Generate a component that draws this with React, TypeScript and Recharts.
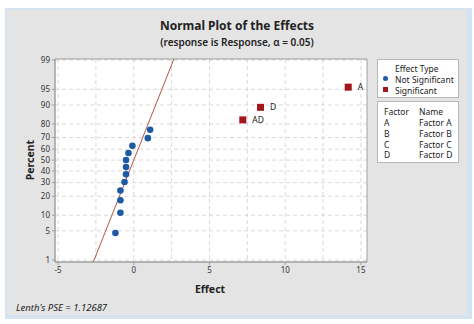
import {
  ScatterChart,
  Scatter,
  XAxis,
  YAxis,
  CartesianGrid,
  ReferenceLine,
  ReferenceArea,
  LabelList,
} from "recharts";

// effects that are not significant (blue dots)
const nsEffects = [-1.21, -0.88, -0.88, -0.88, -0.61, -0.51, -0.51, -0.51, -0.35, -0.09, 0.93, 1.08];
const nsPercents = [4.5, 11.0, 17.5, 24.0, 30.5, 37.0, 43.5, 50.0, 56.5, 63.0, 69.5, 76.0];

// significant effects (red squares)
const sigNames = ["AD", "D", "A"];
const sigEffects = [7.2, 8.37, 14.16];
const sigPercents = [82.5, 89.0, 95.5];

// reference line (through 0 with slope = Lenth's PSE), ends at plot edges
const lineEffects = [-2.67, 2.65];
const linePercents = [0.89, 99.06];

const pctTicks = [1, 5, 10, 20, 30, 40, 50, 60, 70, 80, 90, 95, 99];
const xTicks = [-5, 0, 5, 10, 15];
const xGrid = [-5, -2.5, 0, 2.5, 5, 7.5, 10, 12.5, 15];

const factors = ["A", "B", "C", "D"];
const factorNames = ["Factor A", "Factor B", "Factor C", "Factor D"];

const BLUE = "#1d5aa6";
const RED = "#a3161d";
const FONT = "'Noto Sans', 'Open Sans', sans-serif";

// inverse normal cdf (Acklam) -> probability scale
function probit(p: number): number {
  const a = [-39.69683028665376, 220.9460984245205, -275.9285104469687, 138.357751867269, -30.66479806614716, 2.506628277459239];
  const b = [-54.47609879822406, 161.5858368580409, -155.6989798598866, 66.80131188771972, -13.28068155288572];
  const c = [-0.007784894002430293, -0.3223964580411365, -2.400758276161838, -2.549732539343734, 4.374664141464968, 2.938163982698783];
  const d = [0.007784695709041462, 0.3224671290700398, 2.445134137142996, 3.754408661907416];
  const pl = 0.02425;
  if (p < pl) {
    const q = Math.sqrt(-2 * Math.log(p));
    return (((((c[0] * q + c[1]) * q + c[2]) * q + c[3]) * q + c[4]) * q + c[5]) /
      ((((d[0] * q + d[1]) * q + d[2]) * q + d[3]) * q + 1);
  }
  if (p > 1 - pl) {
    const q = Math.sqrt(-2 * Math.log(1 - p));
    return -(((((c[0] * q + c[1]) * q + c[2]) * q + c[3]) * q + c[4]) * q + c[5]) /
      ((((d[0] * q + d[1]) * q + d[2]) * q + d[3]) * q + 1);
  }
  const q = p - 0.5;
  const r = q * q;
  return ((((((a[0] * r + a[1]) * r + a[2]) * r + a[3]) * r + a[4]) * r + a[5]) * q) /
    (((((b[0] * r + b[1]) * r + b[2]) * r + b[3]) * r + b[4]) * r + 1);
}

const z = (pct: number) => probit(pct / 100);

const nsData = nsEffects.map((e, i) => ({ effect: e, z: z(nsPercents[i]) }));
const sigData = sigEffects.map((e, i) => ({ effect: e, z: z(sigPercents[i]), name: sigNames[i] }));
const yTicks = pctTicks.map(z);

// label for a probability-scale tick: nearest percent
function pctLabel(v: number): string {
  let best = 0;
  yTicks.forEach((t, i) => {
    if (Math.abs(t - v) < Math.abs(yTicks[best] - v)) best = i;
  });
  return String(pctTicks[best]);
}

const Square = (props: any) => {
  const { cx, cy } = props;
  return <rect x={cx - 3.5} y={cy - 3.5} width={7} height={7} fill={RED} />;
};

const Dot = (props: any) => {
  const { cx, cy } = props;
  return <circle cx={cx} cy={cy} r={3.3} fill={BLUE} />;
};

const legendText = { position: "absolute" as const, whiteSpace: "nowrap" as const };

export default function App() {
  return (
    <div style={{ position: "relative", width: 474, height: 324, fontFamily: FONT, color: "#222" }}>
      <style>{`body{margin:0}`}</style>
      {/* outer panel */}
      <div
        style={{
          position: "absolute",
          left: 5,
          top: 8,
          width: 460,
          height: 305,
          background: "#e4e4e4",
          border: "2px solid #d5e2ef",
          borderRightWidth: 5,
          borderBottomWidth: 4,
        }}
      />
      <div style={{ position: "absolute", left: 0, top: 0 }}>
        <ScatterChart width={474} height={324} margin={{ top: 59, right: 107, bottom: 42, left: 0 }}>
          <CartesianGrid
            fill="#ffffff"
            stroke="#d9d9d9"
            strokeDasharray="4 3"
            verticalValues={xGrid}
          />
          <XAxis
            type="number"
            dataKey="effect"
            domain={[-5.2, 15.4]}
            ticks={xTicks}
            interval={0}
            height={20}
            axisLine={{ stroke: "#a0a0a0" }}
            tickLine={{ stroke: "#a0a0a0" }}
            tickSize={3}
            tick={{ fontSize: 8, fill: "#333", fontFamily: FONT }}
            allowDataOverflow
          />
          <YAxis
            type="number"
            dataKey="z"
            domain={[-2.37, 2.35]}
            ticks={yTicks}
            interval={0}
            width={55}
            axisLine={{ stroke: "#a0a0a0" }}
            tickLine={{ stroke: "#a0a0a0" }}
            tickSize={3}
            tickFormatter={pctLabel}
            tick={{ fontSize: 8, fill: "#333", fontFamily: FONT }}
            allowDataOverflow
          />
          <ReferenceArea
            x1={-5.2}
            x2={15.4}
            y1={-2.37}
            y2={2.35}
            fill="none"
            stroke="#a0a0a0"
            ifOverflow="visible"
          />
          <ReferenceLine
            segment={[
              { x: lineEffects[0], y: z(linePercents[0]) },
              { x: lineEffects[1], y: z(linePercents[1]) },
            ]}
            stroke="#b2574c"
            strokeWidth={1}
          />
          <Scatter data={nsData} shape={Dot} isAnimationActive={false} />
          <Scatter data={sigData} shape={Square} isAnimationActive={false}>
            <LabelList dataKey="name" position="right" offset={5} style={{ fontSize: 8.5, fill: "#222", fontFamily: FONT }} />
          </Scatter>
        </ScatterChart>
      </div>

      {/* titles */}
      <div style={{ position: "absolute", left: 0, width: 474, top: 17, textAlign: "center", fontSize: 12, fontWeight: 700 }}>
        Normal Plot of the Effects
      </div>
      <div style={{ position: "absolute", left: 0, width: 474, top: 35, textAlign: "center", fontSize: 10, fontWeight: 600 }}>
        (response is Response, α = 0.05)
      </div>
      <div
        style={{
          position: "absolute",
          left: 30,
          top: 160,
          transform: "translate(-50%, -50%) rotate(-90deg)",
          fontSize: 10.5,
          fontWeight: 700,
        }}
      >
        Percent
      </div>
      <div style={{ position: "absolute", left: 210, top: 289, transform: "translate(-50%, -50%)", fontSize: 10.5, fontWeight: 700 }}>
        Effect
      </div>
      <div style={{ position: "absolute", left: 16, top: 301, fontSize: 9.5, fontStyle: "italic", whiteSpace: "nowrap" }}>
        Lenth's PSE = 1.12687
      </div>

      {/* legend: effect type */}
      <div
        style={{
          position: "absolute",
          left: 377,
          top: 59,
          width: 82,
          height: 39,
          background: "#fff",
          border: "1px solid #b8b8b8",
          fontSize: 8.5,
          lineHeight: "11px",
          boxSizing: "border-box",
        }}
      >
        <div style={{ ...legendText, left: 17, top: 3 }}>Effect Type</div>
        <div style={{ position: "absolute", left: 5, top: 16, width: 5, height: 5, borderRadius: 3, background: BLUE }} />
        <div style={{ ...legendText, left: 17, top: 13.5 }}>Not Significant</div>
        <div style={{ position: "absolute", left: 5, top: 26.5, width: 5, height: 5, background: RED }} />
        <div style={{ ...legendText, left: 17, top: 24.5 }}>Significant</div>
      </div>

      {/* legend: factor table */}
      <div
        style={{
          position: "absolute",
          left: 377,
          top: 101,
          width: 82,
          height: 62,
          background: "#fff",
          border: "1px solid #b8b8b8",
          fontSize: 8.5,
          lineHeight: "11px",
          boxSizing: "border-box",
        }}
      >
        <div style={{ ...legendText, left: 6, top: 4 }}>Factor</div>
        <div style={{ ...legendText, left: 41, top: 4 }}>Name</div>
        {factors.map((f, i) => (
          <div key={f}>
            <div style={{ ...legendText, left: 6, top: 15 + i * 10.8 }}>{f}</div>
            <div style={{ ...legendText, left: 41, top: 15 + i * 10.8 }}>{factorNames[i]}</div>
          </div>
        ))}
      </div>
    </div>
  );
}
